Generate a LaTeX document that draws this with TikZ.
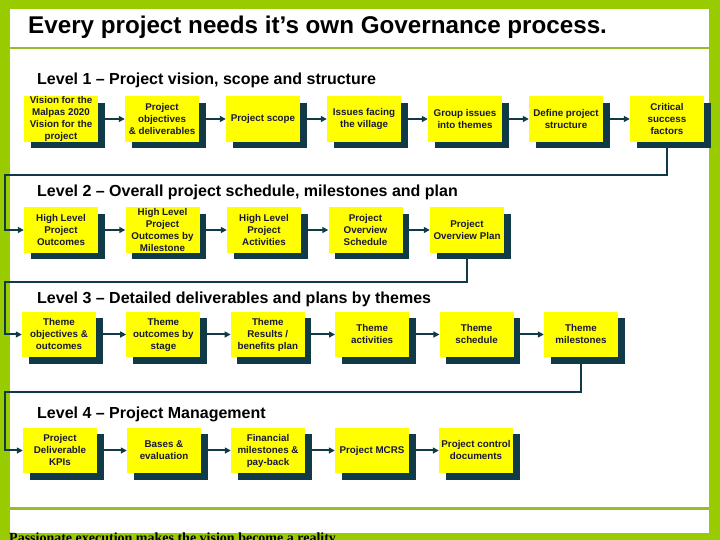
\documentclass[tikz,border=0pt]{standalone}
\usepackage{fontspec}
\setmainfont{Liberation Sans}
\newfontfamily\mottofont{Liberation Serif}
\usetikzlibrary{arrows.meta,shadows}
\definecolor{framegreen}{RGB}{153,204,0}
\definecolor{rulegreen}{RGB}{150,190,40}
\definecolor{boxyellow}{RGB}{255,255,0}
\definecolor{boxshade}{RGB}{16,58,72}
\definecolor{boxtext}{RGB}{25,25,55}

\begin{document}
\begin{tikzpicture}[x=1pt, y=1pt,
    stepbox/.style={fill=boxyellow, text=boxtext, align=center, minimum width=74pt, minimum height=45.5pt, inner sep=0pt,
        font=\fontsize{9.8}{12}\selectfont\bfseries,
        drop shadow={shadow xshift=6.5pt, shadow yshift=-6.5pt, fill=boxshade, opacity=1}},
    flow/.style={draw=boxshade, line width=2pt, -{Triangle[length=6pt,width=6pt]}},
    level/.style={anchor=base west, inner sep=0pt, font=\fontsize{16}{19}\selectfont\bfseries}]
    \useasboundingbox (0,0) rectangle (720,540);
    % Frame
    \fill [framegreen] (0,0) rectangle (720,540);
    \fill [white] (10,7) rectangle (709,531);
    \draw [rulegreen, line width=2.5pt] (10,492) -- (709,492);
    \draw [rulegreen, line width=3pt] (10,31) -- (709,31);
    \node [anchor=base west, inner sep=0pt, font=\fontsize{24.2}{28}\selectfont\bfseries] (title) at (28,506) {Every project needs it’s own Governance process.};
    \node [anchor=base west, inner sep=0pt, font=\mottofont\fontsize{14}{16}\selectfont\bfseries] (motto) at (9,-3) {Passionate execution makes the vision become a reality};

    % Level 1
    \node [level] (levelone) at (37,455) {Level 1 – Project vision, scope and structure};
    \node [stepbox] (vision) at (61,421) {Vision for the\\Malpas 2020\\Vision for the\\project};
    \node [stepbox] (objectives) at (162,421) {Project\\objectives\\\& deliverables};
    \node [stepbox] (scope) at (263,421) {Project scope};
    \node [stepbox] (issues) at (364,421) {Issues facing\\the village};
    \node [stepbox] (groups) at (465,421) {Group issues\\into themes};
    \node [stepbox] (structure) at (566,421) {Define project\\structure};
    \node [stepbox] (factors) at (667,421) {Critical\\success\\factors};
    \draw [flow] (vision) -- (objectives);
    \draw [flow] (objectives) -- (scope);
    \draw [flow] (scope) -- (issues);
    \draw [flow] (issues) -- (groups);
    \draw [flow] (groups) -- (structure);
    \draw [flow] (structure) -- (factors);

    % Level 2
    \node [level] (leveltwo) at (37,343) {Level 2 – Overall project schedule, milestones and plan};
    \node [stepbox] (hloutcomes) at (61,310) {High Level\\Project\\Outcomes};
    \node [stepbox] (hlmilestone) at (162.5,310) {High Level\\Project\\Outcomes by\\Milestone};
    \node [stepbox] (hlactivities) at (264,310) {High Level\\Project\\Activities};
    \node [stepbox] (ovschedule) at (365.5,310) {Project\\Overview\\Schedule};
    \node [stepbox] (ovplan) at (467,310) {Project\\Overview Plan};
    \draw [flow] (hloutcomes) -- (hlmilestone);
    \draw [flow] (hlmilestone) -- (hlactivities);
    \draw [flow] (hlactivities) -- (ovschedule);
    \draw [flow] (ovschedule) -- (ovplan);

    % Level 3
    \node [level] (levelthree) at (37,236) {Level 3 – Detailed deliverables and plans by themes};
    \node [stepbox] (thobjectives) at (59,205.5) {Theme\\objectives \&\\outcomes};
    \node [stepbox] (thoutcomes) at (163.4,205.5) {Theme\\outcomes by\\stage};
    \node [stepbox] (thresults) at (267.8,205.5) {Theme\\Results /\\benefits plan};
    \node [stepbox] (thactivities) at (372.2,205.5) {Theme\\activities};
    \node [stepbox] (thschedule) at (476.6,205.5) {Theme\\schedule};
    \node [stepbox] (thmilestones) at (581,205.5) {Theme\\milestones};
    \draw [flow] (thobjectives) -- (thoutcomes);
    \draw [flow] (thoutcomes) -- (thresults);
    \draw [flow] (thresults) -- (thactivities);
    \draw [flow] (thactivities) -- (thschedule);
    \draw [flow] (thschedule) -- (thmilestones);

    % Level 4
    \node [level] (levelfour) at (37,121) {Level 4 – Project Management};
    \node [stepbox] (kpis) at (60,89.5) {Project\\Deliverable\\KPIs};
    \node [stepbox] (bases) at (164,89.5) {Bases \&\\evaluation};
    \node [stepbox] (financial) at (268,89.5) {Financial\\milestones \&\\pay-back};
    \node [stepbox] (mcrs) at (372,89.5) {Project MCRS};
    \node [stepbox] (control) at (476,89.5) {Project control\\documents};
    \draw [flow] (kpis) -- (bases);
    \draw [flow] (bases) -- (financial);
    \draw [flow] (financial) -- (mcrs);
    \draw [flow] (mcrs) -- (control);

    % Links between levels
    \coordinate (turnone) at (5,365);
    \coordinate (turntwo) at (5,258);
    \coordinate (turnthree) at (5,148);
    \draw [flow] (factors.south) |- (turnone) |- (hloutcomes.west);
    \draw [flow] (ovplan.south) |- (turntwo) |- (thobjectives.west);
    \draw [flow] (thmilestones.south) |- (turnthree) |- (kpis.west);
\end{tikzpicture}
\end{document}
